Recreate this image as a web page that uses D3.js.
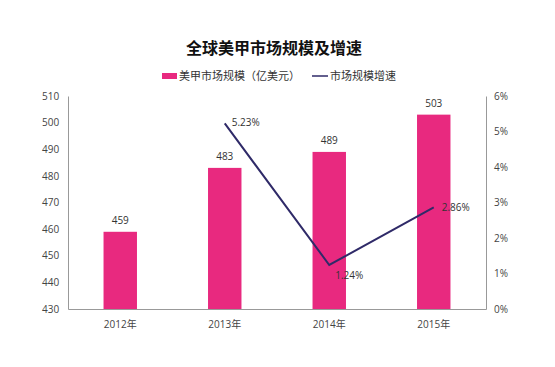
<!DOCTYPE html>
<html lang="zh">
<head>
  <meta charset="UTF-8">
  <title>全球美甲市场规模及增速</title>
  <script src="https://d3js.org/d3.v7.min.js"></script>
  <style>
    body { margin: 0; background: #fff; }
    text { font-family: "Noto Sans CJK SC", "Open Sans", sans-serif; }
  </style>
</head>
<body>
  <svg id="chart" width="555" height="367"></svg>
  <script>
    // chart data
    const years = ['2012年', '2013年', '2014年', '2015年'];
    const marketSize = [459, 483, 489, 503];
    const growth = [null, 5.23, 1.24, 2.86];
    const leftTicks = [430, 440, 450, 460, 470, 480, 490, 500, 510];
    const rightTicks = [0, 1, 2, 3, 4, 5, 6];

    const svg = d3.select('#chart');
    const plotL = 68, plotR = 486, plotT = 96, plotB = 309;

    const x = d3.scaleBand().domain(years).range([plotL, plotR]).paddingInner(0.68).paddingOuter(0.34);
    const xc = d3.scaleBand().domain(years).range([plotL, plotR]);
    const yL = d3.scaleLinear().domain([430, 510]).range([plotB, plotT]);
    const yR = d3.scaleLinear().domain([0, 6]).range([plotB, plotT]);

    const pink = '#E8297F';
    const navy = '#2F2A68';

    // title
    svg.append('text')
      .attr('x', 274).attr('y', 54)
      .attr('text-anchor', 'middle')
      .style('font-size', '16px').style('font-weight', 'bold').style('fill', '#111')
      .text('全球美甲市场规模及增速');

    // legend
    svg.append('rect').attr('x', 162).attr('y', 73).attr('width', 15).attr('height', 6).attr('fill', pink);
    svg.append('text').attr('x', 179).attr('y', 80).style('font-size', '11px').style('fill', '#333')
      .text('美甲市场规模（亿美元）');
    svg.append('line').attr('x1', 312).attr('x2', 328).attr('y1', 76).attr('y2', 76)
      .attr('stroke', navy).attr('stroke-width', 1.5);
    svg.append('text').attr('x', 330).attr('y', 80).style('font-size', '11px').style('fill', '#333')
      .text('市场规模增速');

    // axes
    const axisL = svg.append('g').attr('transform', `translate(${plotL},0)`)
      .call(d3.axisLeft(yL).tickValues(leftTicks).tickSize(0).tickPadding(26));
    const axisR = svg.append('g').attr('transform', `translate(${plotR},0)`)
      .call(d3.axisRight(yR).tickValues(rightTicks).tickSize(0).tickPadding(8).tickFormat(d => d + '%'));
    const axisB = svg.append('g').attr('transform', `translate(0,${plotB})`)
      .call(d3.axisBottom(xc).tickSize(0).tickPadding(12));

    [axisL, axisR, axisB].forEach(g => {
      g.select('.domain').attr('stroke', '#999');
      g.selectAll('text').style('font-size', '10px').style('fill', '#444')
        .style('font-family', '"Open Sans", "Noto Sans CJK SC", sans-serif');
    });
    axisL.selectAll('text').attr('text-anchor', 'start').attr('x', -26);

    // bars
    svg.append('g').selectAll('rect')
      .data(marketSize)
      .join('rect')
      .attr('x', (d, i) => x(years[i]))
      .attr('y', d => yL(d))
      .attr('width', x.bandwidth())
      .attr('height', d => plotB - yL(d))
      .attr('fill', pink);

    svg.append('g').selectAll('text')
      .data(marketSize)
      .join('text')
      .attr('x', (d, i) => x(years[i]) + x.bandwidth() / 2)
      .attr('y', d => yL(d) - 8)
      .attr('text-anchor', 'middle')
      .style('font-size', '10px').style('fill', '#333')
      .style('font-family', '"Open Sans", sans-serif')
      .text(d => d);

    // growth line
    const pts = growth.map((g, i) => ({ year: years[i], g })).filter(d => d.g !== null);
    const line = d3.line()
      .x(d => xc(d.year) + xc.bandwidth() / 2)
      .y(d => yR(d.g));
    svg.append('path')
      .datum(pts)
      .attr('d', line)
      .attr('fill', 'none')
      .attr('stroke', navy)
      .attr('stroke-width', 2);

    const labelOffset = [[7, 3], [6, 14], [8, 4]];
    svg.append('g').selectAll('text')
      .data(pts)
      .join('text')
      .attr('x', (d, i) => xc(d.year) + xc.bandwidth() / 2 + labelOffset[i][0])
      .attr('y', (d, i) => yR(d.g) + labelOffset[i][1])
      .style('font-size', '10px').style('fill', '#333')
      .style('font-family', '"Open Sans", sans-serif')
      .text(d => d.g.toFixed(2) + '%');
  </script>
</body>
</html>
